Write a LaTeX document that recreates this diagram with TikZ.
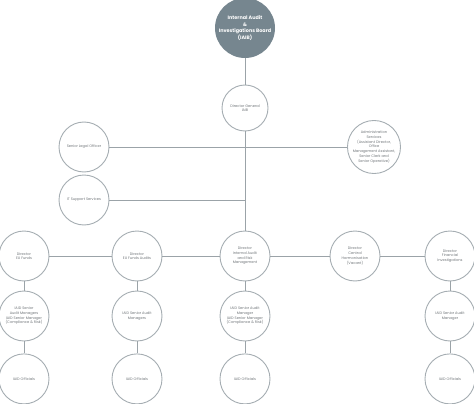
\documentclass[tikz,border=0pt]{standalone}
\usepackage{fontspec}
\setmainfont{Poppins}
\usetikzlibrary{positioning}
\definecolor{slate}{RGB}{118,134,143}
\definecolor{ring}{RGB}{165,173,178}
\definecolor{wire}{RGB}{155,163,168}
\definecolor{ink}{RGB}{115,120,124}
\tikzset{
  board/.style={circle,fill=slate,text=white,minimum size=60pt,inner sep=0pt,align=center,
    font=\fontsize{4.9}{6.8}\selectfont\bfseries},
  unit/.style={circle,draw=ring,line width=0.9pt,fill=white,text=ink,minimum size=50pt,inner sep=0pt,
    align=center,font=\fontsize{3.6}{4.7}\selectfont},
  wire/.style={draw=wire,line width=0.9pt}
}
\begin{document}
\begin{tikzpicture}[x=1pt,y=-1pt]
  \useasboundingbox (0,0) rectangle (474,404);
  \clip (0,0) rectangle (474,404);
  \node[board] (iaib) at (245,28) {Internal Audit\\\&\\Investigations Board\\(IAIB)};
  \node[unit,minimum size=46pt] (dg) at (245,108) {Director General\\IAIB};
  \node[unit] (slo) at (84,147) {Senior Legal Officer};
  \node[unit] (adm) at (374,147) {Administration\\Services\\(Assistant Director,\\Office\\Management Assistant,\\Senior Clerk and\\Senior Operative)};
  \node[unit] (its) at (84,200) {IT Support Services};
  \coordinate (itj) at (245,200);
  % directors
  \node[unit] (euf) at (24,256) {Director\\EU Funds};
  \node[unit] (eua) at (137,256) {Director\\EU Funds Audits};
  \node[unit] (iar) at (245,256) {Director\\Internal Audit\\and Risk\\Management};
  \node[unit] (chm) at (355,256) {Director\\Central\\Harmonisation\\(Vacant)};
  \node[unit] (fin) at (450,256) {Director\\Financial\\Investigations};
  % managers
  \node[unit] (euf-m) at (24,316) {IAID Senior\\Audit Managers\\IAID Senior Manager\\(Compliance \& Risk)};
  \node[unit] (eua-m) at (137,316) {IAID Senior Audit\\Managers};
  \node[unit] (iar-m) at (245,316) {IAID Senior Audit\\Manager\\IAID Senior Manager\\(Compliance \& Risk)};
  \node[unit] (fin-m) at (450,316) {IAID Senior Audit\\Manager};
  % officials
  \foreach \n in {euf,eua,iar,fin}
    \node[unit,below=12pt of \n-m] (\n-o) {IAID Officials};
  \draw[wire] (iaib) -- (dg) (dg) -- (iar) (slo) -- (adm) (its) -- (itj);
  \draw[wire] (euf) -- (eua) (eua) -- (iar) (iar) -- (chm) (chm) -- (fin);
  \foreach \n in {euf,eua,iar,fin}
    \draw[wire] (\n) -- (\n-m) (\n-m) -- (\n-o);
\end{tikzpicture}
\end{document}
